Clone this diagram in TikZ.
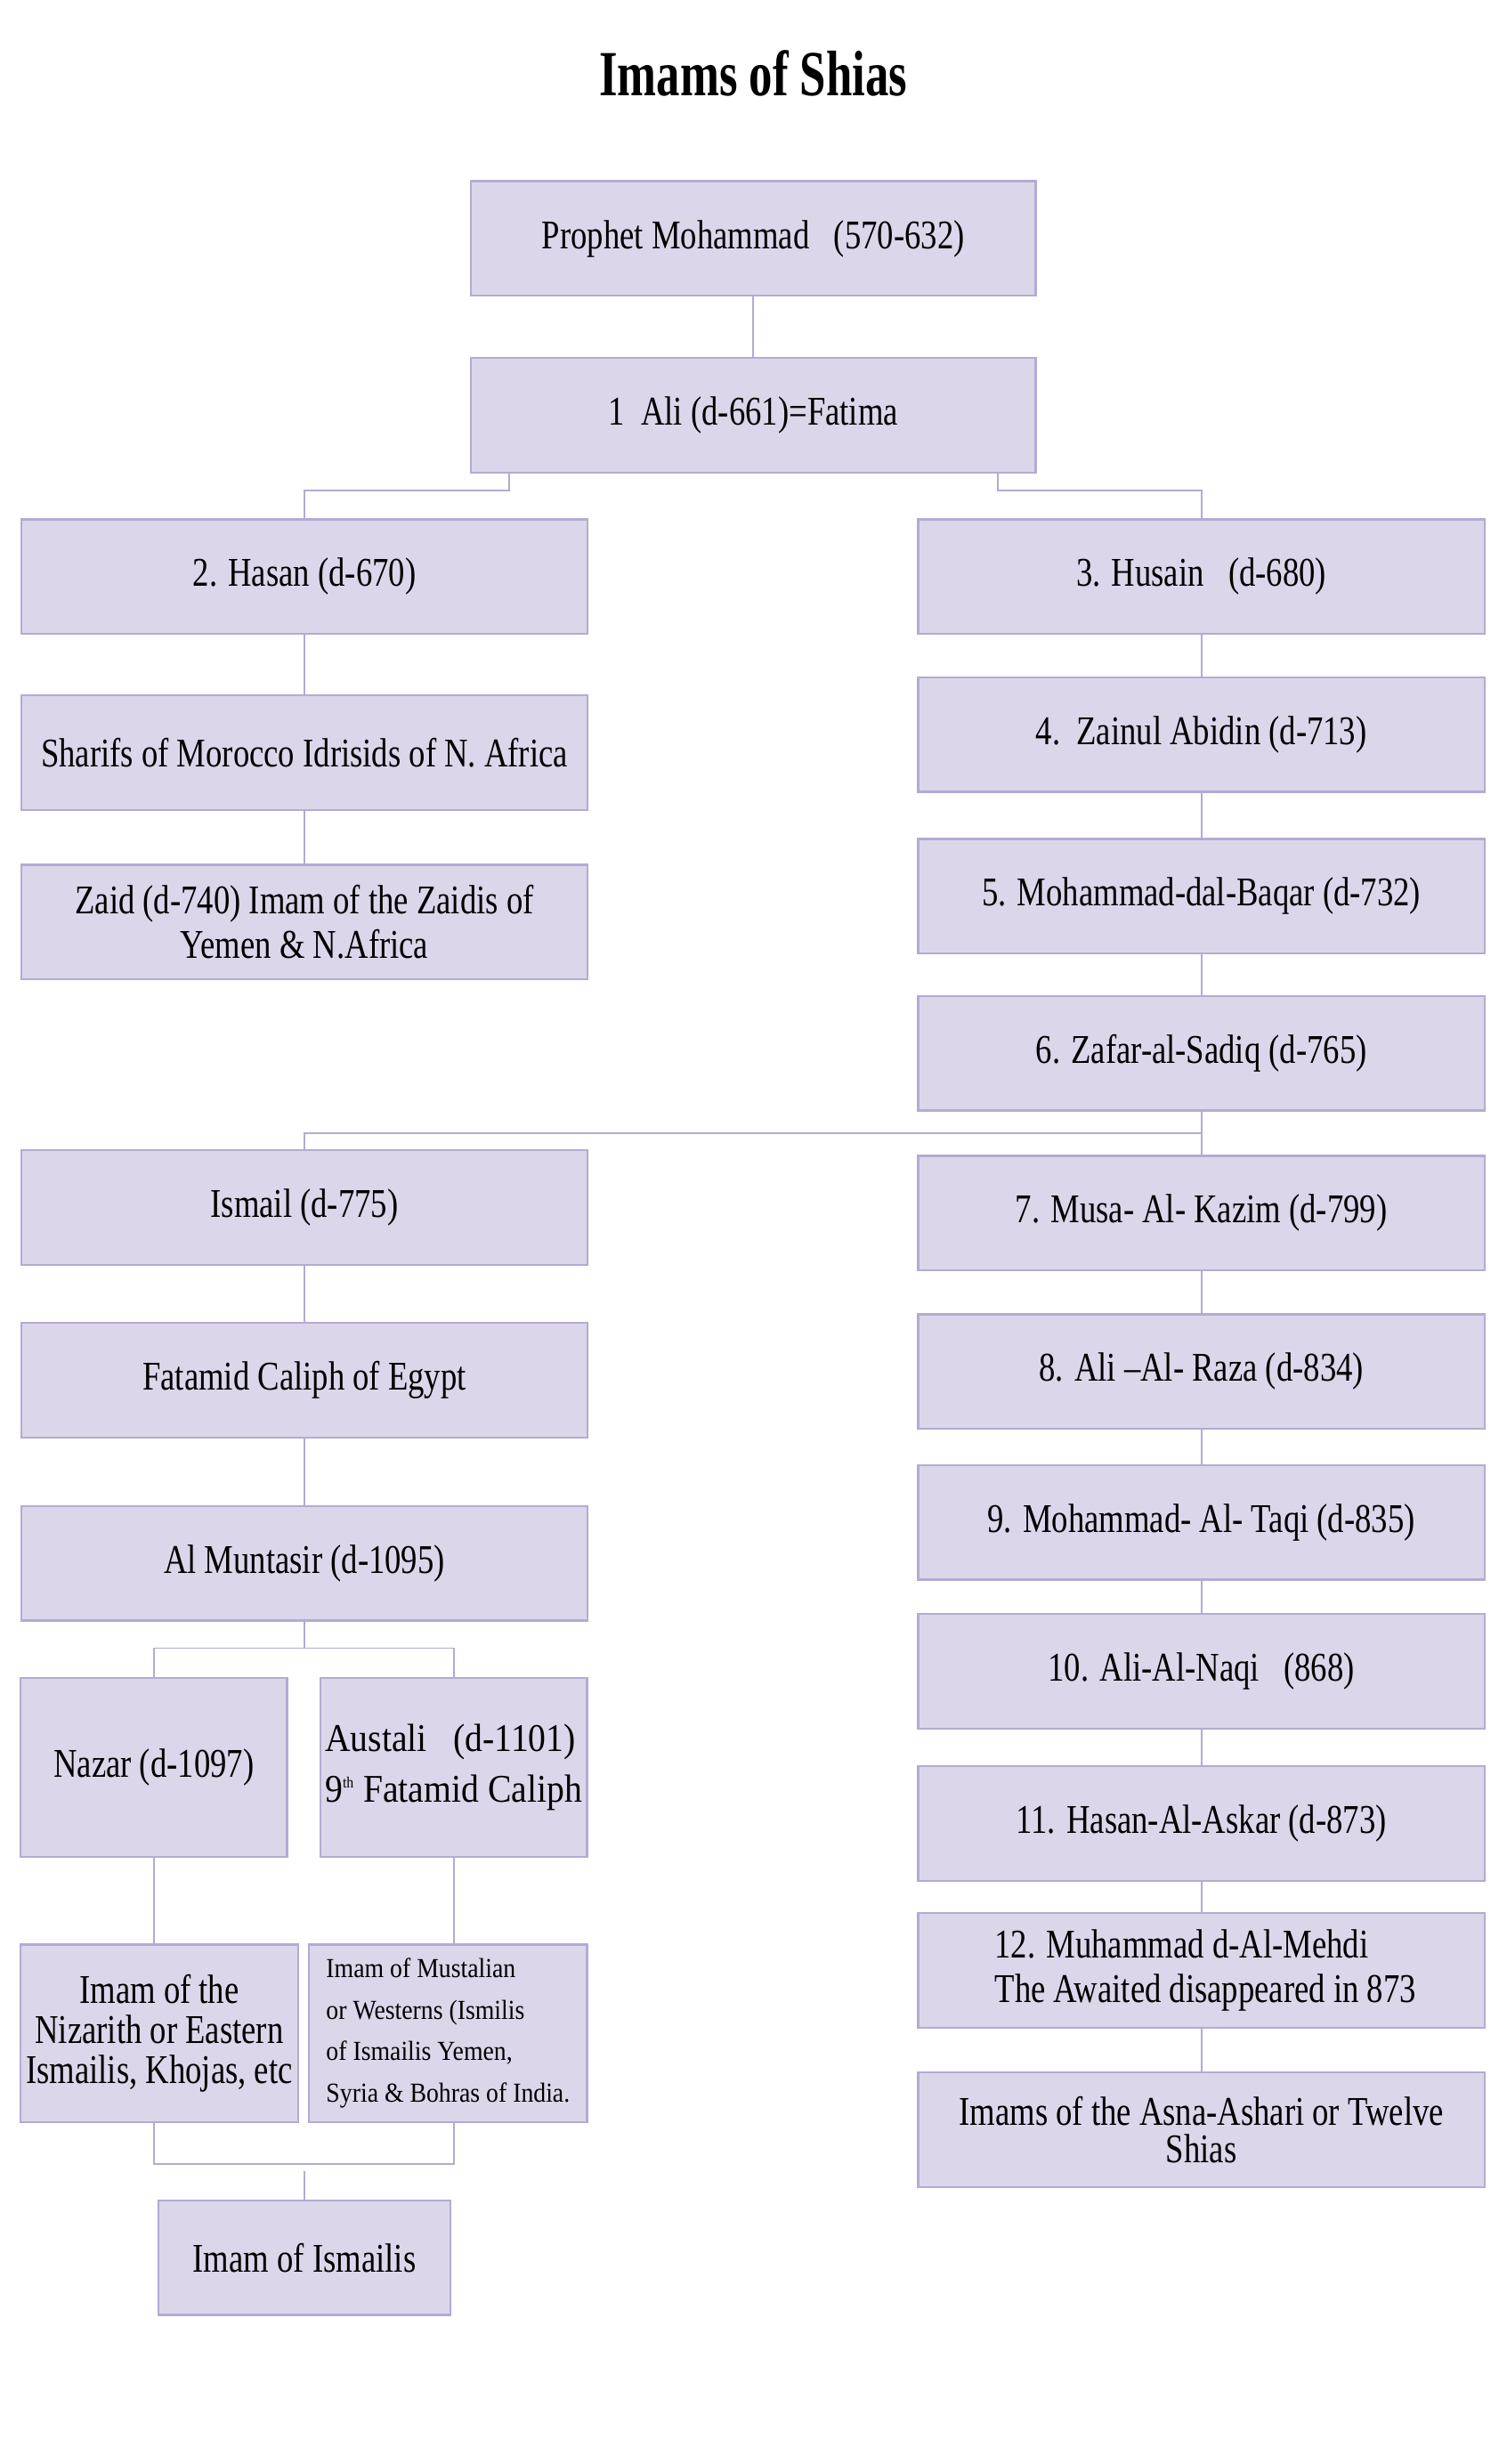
\documentclass[tikz,border=0pt]{standalone}
\usepackage{fontspec}
\setmainfont{Liberation Serif}[FakeStretch=0.8]
\newfontfamily\widefont{Liberation Serif}[FakeStretch=0.9]
\newfontfamily\titlefont{Liberation Serif}[FakeStretch=0.73]
\definecolor{boxfill}{HTML}{DCD6EA}
\definecolor{boxline}{HTML}{B3ABD3}
\begin{document}
\begin{tikzpicture}[x=1pt,y=-1pt,
            imam/.style={draw=boxline,fill=boxfill,line width=1.3pt,minimum width=361pt,minimum height=73pt,
                         inner sep=2pt,align=center,font=\fontsize{26}{28}\selectfont},
            link/.style={draw=boxline,line width=1.1pt}]
            \useasboundingbox (0,0) rectangle (960,1570);
            \node[font=\titlefont\fontsize{41}{46}\selectfont\bfseries] (title) at (480,47) {Imams of Shias};
            % top of the tree
            \node[imam,minimum width=360pt] (prophet) at (480,152) {Prophet Mohammad\ \ \ (570-632)};
            \node[imam,minimum width=360pt] (ali)     at (480,264.5) {1\ \ Ali (d-661)=Fatima};
            % left column
            \node[imam] (hasan)    at (194,367.5) {2. Hasan (d-670)};
            \node[imam] (sharifs)  at (194,479.5) {Sharifs of Morocco Idrisids of N. Africa};
            \node[imam] (zaid)     at (194,587.5) {Zaid (d-740) Imam of the Zaidis of\\Yemen \& N.Africa};
            \node[imam] (ismail)   at (194,769.5) {Ismail (d-775)};
            \node[imam] (fatamid)  at (194,879.5) {Fatamid Caliph of Egypt};
            \node[imam] (muntasir) at (194,996)   {Al Muntasir (d-1095)};
            \node[imam,minimum width=170pt,minimum height=114pt] (nazar)   at (98,1126)  {Nazar (d-1097)};
            \node[imam,minimum width=170pt,minimum height=114pt,inner sep=1pt,align=left,font=\widefont\fontsize{25}{30}\selectfont] (austali) at (289,1126)
                 {\raisebox{0pt}[\height][14pt]{Austali\ \ \ (d-1101)}\\9\textsuperscript{\fontsize{10}{10}\selectfont th} Fatamid Caliph};
            \node[imam,minimum width=177pt,minimum height=113pt,inner sep=1pt,font=\fontsize{26}{25.5}\selectfont] (nizarith) at (101.5,1295.5)
                 {Imam of the\\Nizarith or Eastern\\Ismailis, Khojas, etc};
            \node[imam,minimum width=177pt,minimum height=113pt,align=left,font=\widefont\fontsize{17.5}{26.5}\selectfont] (mustalian) at (285.5,1295.5)
                 {Imam of Mustalian\\or Westerns (Ismilis\\of Ismailis Yemen,\\Syria \& Bohras of India.};
            \node[imam,minimum width=186pt] (ismailis) at (194,1438.5) {Imam of Ismailis};
            % right column
            \node[imam] (husain)  at (765.5,367.5)  {3. Husain\ \ \ (d-680)};
            \node[imam] (zainul)  at (765.5,468)    {4.\ \ Zainul Abidin (d-713)};
            \node[imam] (baqar)   at (765.5,571)    {5. Mohammad-dal-Baqar (d-732)};
            \node[imam] (zafar)   at (765.5,671)    {6. Zafar-al-Sadiq (d-765)};
            \node[imam] (musa)    at (765.5,773)    {7. Musa- Al- Kazim (d-799)};
            \node[imam] (raza)    at (765.5,874)    {8. Ali --Al- Raza (d-834)};
            \node[imam] (taqi)    at (765.5,970)    {9. Mohammad- Al- Taqi (d-835)};
            \node[imam] (naqi)    at (765.5,1065)   {10. Ali-Al-Naqi\ \ \ (868)};
            \node[imam] (askar)   at (765.5,1162)   {11. Hasan-Al-Askar (d-873)};
            \node[imam,align=left] (mehdi) at (765.5,1255.5) {\ 12. Muhammad d-Al-Mehdi\\\ The Awaited disappeared in 873};
            \node[imam,font=\fontsize{26}{24}\selectfont] (asna) at (765.5,1357) {Imams of the Asna-Ashari or Twelve\\Shias};
            % connectors
            \draw[link] (prophet) -- (ali);
            \draw[link] ([xshift=25pt]ali.south west) -- ++(0,11) -| (hasan.north);
            \draw[link] ([xshift=-25pt]ali.south east) -- ++(0,11) -| (husain.north);
            \draw[link] (hasan) -- (sharifs);
            \draw[link] (sharifs) -- (zaid);
            \foreach \a/\b in {husain/zainul,zainul/baqar,baqar/zafar,zafar/musa,musa/raza,raza/taqi,taqi/naqi,naqi/askar,askar/mehdi,mehdi/asna}
                \draw[link] (\a) -- (\b);
            \coordinate (split6) at ([yshift=-14pt]zafar.south);
            \draw[link] (split6) -| (ismail.north);
            \draw[link] (ismail) -- (fatamid);
            \draw[link] (fatamid) -- (muntasir);
            \draw[link] (muntasir.south) -- ++(0,17) coordinate (split9);
            \draw[link] (nazar.north) |- (split9) -| (austali.north);
            \draw[link] (nazar.south) -- (nazar.south |- nizarith.north);
            \draw[link] (austali.south) -- (austali.south |- mustalian.north);
            \draw[link] (nazar.south |- nizarith.south) -- ++(0,26) coordinate (join) -| (austali.south |- mustalian.south);
            \draw[link] ([yshift=-5pt]join -| ismailis.north) -- (ismailis.north);
\end{tikzpicture}
\end{document}
